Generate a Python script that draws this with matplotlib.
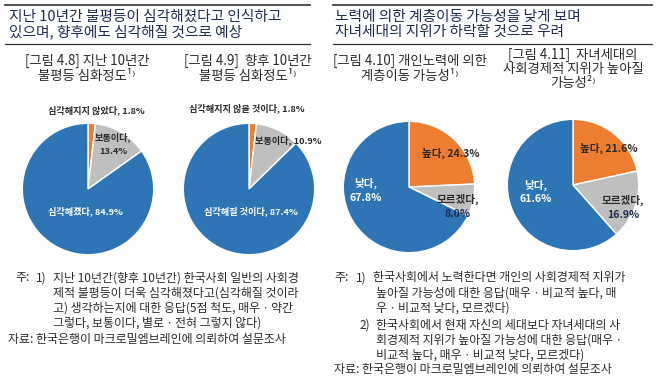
import matplotlib
matplotlib.use("Agg")
import matplotlib.pyplot as plt
from matplotlib.lines import Line2D

plt.rcParams['font.family'] = ['Noto Sans CJK KR', 'DejaVu Sans']

W, H = 658, 380

# data
pie_labels_a = ['심각해지지 않았다', '보통이다', '심각해졌다']
pie_values_a = [1.8, 13.4, 84.9]
pie_labels_b = ['심각해지지 않을 것이다', '보통이다', '심각해질 것이다']
pie_values_b = [1.8, 10.9, 87.4]
pie_labels_c = ['높다', '모르겠다', '낮다']
pie_values_c = [24.3, 8.0, 67.8]
pie_labels_d = ['높다', '모르겠다', '낮다']
pie_values_d = [21.6, 16.9, 61.6]

colors = ['#ed7d31', '#bfbfbf', '#2e75b6']
navy = '#1f2d4f'
txt = '#2a2a2a'

fig = plt.figure(figsize=(W / 100, H / 100), dpi=100)
fig.patch.set_facecolor('white')


def fx(x):
    return x / W


def fy(y):
    return 1 - y / H


def put(x, y, s, size=8, color=txt, ha='left', weight='normal'):
    fig.text(fx(x), fy(y), s, fontsize=size, color=color, ha=ha, va='center',
             fontweight=weight)


def hline(x0, x1, y, color='#333333', lw=1.2):
    fig.add_artist(Line2D([fx(x0), fx(x1)], [fy(y), fy(y)], color=color, lw=lw,
                          transform=fig.transFigure))


def draw_pie(cx, cy, r, values):
    ax = fig.add_axes([fx(cx - r), fy(cy + r), 2 * r / W, 2 * r / H])
    ax.pie(values, colors=colors, startangle=90, counterclock=False,
           wedgeprops=dict(edgecolor='white', linewidth=1.0))
    ax.set_xlim(-1.02, 1.02)
    ax.set_ylim(-1.02, 1.02)
    ax.set_aspect('equal')
    ax.axis('off')
    return ax


# header rules
for x0, x1 in [(5, 310), (333, 652)]:
    hline(x0, x1, 5)
    hline(x0, x1, 44, lw=0.9)

# header texts
hd = 10.6
put(9, 17, '지난 10년간 불평등이 심각해졌다고 인식하고', hd, navy)
put(9, 32, '있으며, 향후에도 심각해질 것으로 예상', hd, navy)
put(335, 17, '노력에 의한 계층이동 가능성을 낮게 보며', hd, navy)
put(335, 32, '자녀세대의 지위가 하락할 것으로 우려', hd, navy)

# panel titles
tt = 9.6
put(87, 61, '[그림 4.8] 지난 10년간', tt, txt, 'center')
put(87, 76, '불평등 심화정도¹⁾', tt, txt, 'center')
put(248, 61, '[그림 4.9]  향후 10년간', tt, txt, 'center')
put(248, 76, '불평등 심화정도¹⁾', tt, txt, 'center')
put(410, 61, '[그림 4.10] 개인노력에 의한', tt, txt, 'center')
put(410, 76, '계층이동 가능성¹⁾', tt, txt, 'center')
put(573, 55, '[그림 4.11]  자녀세대의', tt, txt, 'center')
put(573, 69, '사회경제적 지위가 높아질', tt, txt, 'center')
put(573, 83, '가능성²⁾', tt, txt, 'center')

# pies
draw_pie(88, 189, 67, pie_values_a)
draw_pie(249, 189, 67, pie_values_b)
draw_pie(409, 187, 67, pie_values_c)
draw_pie(573, 185, 67, pie_values_d)

lab = 6.6
put(96, 110, f'{pie_labels_a[0]}, {pie_values_a[0]}%', lab, txt, 'center', 'bold')
put(113, 137, f'{pie_labels_a[1]},', lab, txt, 'center', 'bold')
put(113, 152, f'{pie_values_a[1]}%', lab, txt, 'center', 'bold')
put(85, 211, f'{pie_labels_a[2]}, {pie_values_a[2]}%', lab, 'white', 'center', 'bold')

put(247, 108, f'{pie_labels_b[0]}, {pie_values_b[0]}%', lab, txt, 'center', 'bold')
put(288, 140, f'{pie_labels_b[1]}, {pie_values_b[1]}%', lab, txt, 'center', 'bold')
put(251, 211, f'{pie_labels_b[2]}, {pie_values_b[2]}%', lab, 'white', 'center', 'bold')

lab2 = 7.6
put(451, 153, f'{pie_labels_c[0]}, {pie_values_c[0]}%', lab2, txt, 'center', 'bold')
put(458, 199, f'{pie_labels_c[1]},', lab2, txt, 'center', 'bold')
put(458, 214, f'{pie_values_c[1]}%', lab2, navy, 'center', 'bold')
put(366, 183, f'{pie_labels_c[2]},', lab2, 'white', 'center', 'bold')
put(366, 198, f'{pie_values_c[2]}%', lab2, 'white', 'center', 'bold')

put(609, 148, f'{pie_labels_d[0]}, {pie_values_d[0]}%', lab2, txt, 'center', 'bold')
put(623, 200, f'{pie_labels_d[1]},', lab2, txt, 'center', 'bold')
put(623, 215, f'{pie_values_d[1]}%', lab2, navy, 'center', 'bold')
put(536, 185, f'{pie_labels_d[2]},', lab2, 'white', 'center', 'bold')
put(536, 199, f'{pie_values_d[2]}%', lab2, 'white', 'center', 'bold')

# footnotes left
fn = 8.6
put(15, 278, '주:', fn)
put(36, 278, '1)', fn)
put(53, 278, '지난 10년간(향후 10년간) 한국사회 일반의 사회경', fn)
put(53, 293, '제적 불평등이 더욱 심각해졌다고(심각해질 것이라', fn)
put(53, 308, '고) 생각하는지에 대한 응답(5점 척도, 매우ㆍ약간', fn)
put(53, 323, '그렇다, 보통이다, 별로ㆍ전혀 그렇지 않다)', fn)
put(8, 340, '자료: 한국은행이 마크로밀엠브레인에 의뢰하여 설문조사', fn)

# footnotes right
put(334, 278, '주:', fn)
put(356, 278, '1)', fn)
put(373, 278, '한국사회에서 노력한다면 개인의 사회경제적 지위가', fn)
put(376, 293, '높아질 가능성에 대한 응답(매우ㆍ비교적 높다, 매', fn)
put(376, 308, '우ㆍ비교적 낮다, 모르겠다)', fn)
put(360, 325, '2)', fn)
put(376, 325, '한국사회에서 현재 자신의 세대보다 자녀세대의 사', fn)
put(376, 340, '회경제적 지위가 높아질 가능성에 대한 응답(매우ㆍ', fn)
put(376, 355, '비교적 높다, 매우ㆍ비교적 낮다, 모르겠다)', fn)
put(334, 370, '자료: 한국은행이 마크로밀엠브레인에 의뢰하여 설문조사', fn)

fig.savefig('out.png', dpi=100)
